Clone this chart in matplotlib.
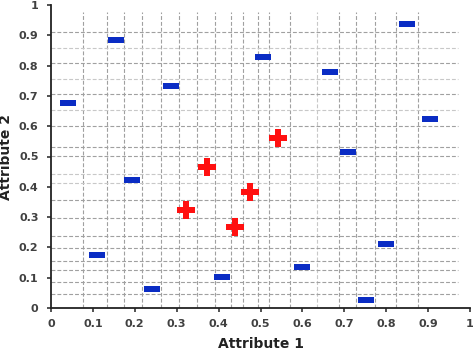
import numpy as np
import matplotlib
matplotlib.use('Agg')
import matplotlib.pyplot as plt
from matplotlib.path import Path

# blue class (bars)
blue_x = [0.041, 0.155, 0.286, 0.507, 0.667, 0.850, 0.905, 0.709,
          0.193, 0.110, 0.242, 0.409, 0.599, 0.799, 0.751]
blue_y = [0.678, 0.886, 0.732, 0.830, 0.780, 0.936, 0.624, 0.515,
          0.421, 0.176, 0.063, 0.102, 0.135, 0.211, 0.025]

# red class (crosses)
red_x = [0.372, 0.542, 0.476, 0.322, 0.439]
red_y = [0.466, 0.561, 0.384, 0.323, 0.266]

# dashed partition lines
grid_x = [0.076, 0.134, 0.174, 0.217, 0.263, 0.305, 0.348, 0.391, 0.430,
          0.458, 0.494, 0.520, 0.570, 0.635, 0.687, 0.728, 0.773, 0.823, 0.876]
grid_y = [0.046, 0.086, 0.125, 0.155, 0.198, 0.238, 0.297, 0.356, 0.413,
          0.442, 0.502, 0.531, 0.601, 0.653, 0.706, 0.756, 0.809, 0.858, 0.911]
light_y = [0.413, 0.442, 0.653, 0.756, 0.858]
light_x = [0.635]

ticks = [0, 0.1, 0.2, 0.3, 0.4, 0.5, 0.6, 0.7, 0.8, 0.9, 1]
tick_labels = ['0', '0.1', '0.2', '0.3', '0.4', '0.5', '0.6', '0.7', '0.8', '0.9', '1']

fig = plt.figure(figsize=(4.74, 3.52), dpi=100)
ax = fig.add_axes([51 / 474, 44 / 352, 419 / 474, 303 / 352])

dash = (0, (3.5, 1.8))
for gx in grid_x:
    c = '#c8c8c8' if gx in light_x else '#a0a0a0'
    ax.vlines(gx, 0, 0.978, colors=c, linestyles=dash, linewidth=0.8, zorder=1)
for gy in grid_y:
    c = '#c8c8c8' if gy in light_y else '#a0a0a0'
    ax.hlines(gy, 0, 0.972, colors=c, linestyles=dash, linewidth=0.8, zorder=1)

# flat rectangle marker
bar = Path([(-1, -0.36), (1, -0.36), (1, 0.36), (-1, 0.36), (-1, -0.36)],
           [Path.MOVETO, Path.LINETO, Path.LINETO, Path.LINETO, Path.CLOSEPOLY])
ax.plot(blue_x, blue_y, linestyle='none', marker=bar, markersize=12,
        color='#0a2cc4', markeredgewidth=0, zorder=3)
ax.plot(red_x, red_y, linestyle='none', marker='P', markersize=13,
        color='#ff1010', markeredgewidth=0, zorder=3)

ax.set_xlim(0, 1)
ax.set_ylim(0, 1)
ax.set_xticks(ticks)
ax.set_xticklabels(tick_labels)
ax.set_yticks(ticks)
ax.set_yticklabels(tick_labels)
for s in ['top', 'right']:
    ax.spines[s].set_visible(False)
for s in ['left', 'bottom']:
    ax.spines[s].set_linewidth(1.3)
    ax.spines[s].set_color('#222222')
ax.tick_params(axis='both', direction='out', length=3, width=1.1, color='#222222',
               labelsize=8, labelcolor='#404040')
for lab in ax.get_xticklabels() + ax.get_yticklabels():
    lab.set_fontweight('bold')
ax.tick_params(axis='x', pad=5)
ax.tick_params(axis='y', pad=6)

ax.set_xlabel('Attribute 1', fontsize=10, fontweight='bold', color='#222222', labelpad=6)
ax.set_ylabel('Attribute 2', fontsize=10, fontweight='bold', color='#222222', labelpad=4)

fig.savefig('out.png', dpi=100)
plt.close()
